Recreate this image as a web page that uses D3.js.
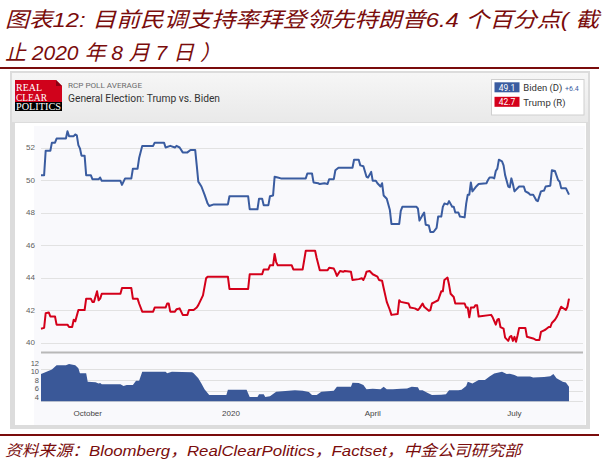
<!DOCTYPE html>
<html><head><meta charset="utf-8">
<script src="https://cdn.jsdelivr.net/npm/d3@7"></script>
<style>body{margin:0;background:#fff;} svg{display:block;}</style>
</head><body><svg id="c" width="612" height="467"></svg>
<script>
// ---------- DATA ----------
const titleLines = ["图表12: 目前民调支持率拜登领先特朗普6.4 个百分点( 截", "止 2020 年 8 月 7 日 ）"];
const sourceText = "资料来源：Bloomberg，RealClearPolitics，Factset，中金公司研究部";
const headerSmall = "RCP POLL AVERAGE";
const headerTitle = "General Election: Trump vs. Biden";
const logoWords = ["REAL", "CLEAR", "POLITICS"];
const startDate = "2019-09-01";   // day 0 of the day offsets below
const endDate = "2020-08-14";

const bidenDays = [0,2,3,6,7,9,10,16,17,18,21,22,23,24,25,26,28,29,32,33,37,38,39,51,52,54,58,59,62,63,65,72,73,79,80,83,86,87,89,91,94,96,99,100,101,103,105,107,108,111,120,121,133,134,139,140,142,143,146,147,149,150,152,154,170,171,174,175,178,179,182,184,185,188,189,191,200,201,204,205,207,209,210,212,213,215,216,218,219,220,222,224,225,230,231,232,241,242,243,245,246,247,249,250,252,254,255,257,258,259,261,262,264,265,266,268,269,272,273,274,275,276,277,279,281,286,287,288,290,291,292,293,294,296,297,298,300,301,302,303,304,307,310,311,313,314,316,318,319,321,323,324,327,328,330,332,333,334,337,338,339];
const bidenValues = [50.3,50.3,51.8,51.8,52.3,52.3,52.55,52.55,53.0,52.7,52.7,52.8,52.75,52.15,51.95,51.5,51.5,50.3,50.3,50.05,50.05,50.15,49.95,49.95,49.7,50.1,50.1,50.7,50.7,51.35,52.1,52.1,52.3,52.3,52.0,52.1,52.0,52.1,52.0,51.7,51.7,51.85,51.85,50.9,49.9,49.6,49.1,48.55,48.4,48.5,48.5,49.0,49.0,48.2,48.2,48.85,48.85,48.45,48.45,49.0,49.05,50.2,50.15,50.1,50.1,50.4,50.4,49.85,49.8,49.75,49.8,49.75,50.05,50.05,50.6,50.75,50.75,51.25,51.25,50.9,50.85,50.2,50.15,50.5,49.95,49.95,49.8,49.6,49.8,49.05,48.85,48.15,47.3,47.3,48.1,48.35,48.35,48.25,47.5,47.85,48.0,47.25,47.2,46.8,46.8,47.05,47.75,47.75,48.35,48.55,48.5,48.7,48.35,48.35,48.0,48.0,47.75,47.7,48.55,49.1,49.1,49.85,49.3,49.55,49.75,49.8,50.0,50.15,50.15,50.1,50.55,50.7,51.25,51.15,50.9,50.3,49.6,49.55,50.1,49.75,49.3,49.6,49.6,49.3,49.2,49.1,49.1,48.75,48.7,49.3,49.35,49.6,49.65,50.6,50.55,50.0,49.9,49.5,49.5,49.3,49.1];

const trumpDays = [0,2,3,5,6,9,10,17,18,20,21,22,24,28,29,32,33,34,36,37,38,39,51,52,58,59,62,63,65,72,73,80,81,82,83,86,87,89,91,94,95,98,100,101,103,104,106,107,120,121,133,134,142,143,146,147,149,150,151,152,161,162,168,170,176,177,179,184,185,188,189,190,192,194,195,199,200,204,206,207,208,209,211,213,216,217,219,220,222,224,225,229,230,231,236,237,240,242,243,245,246,249,250,251,253,255,257,258,259,261,262,263,265,266,272,273,274,275,276,278,279,280,281,289,290,292,293,294,295,297,298,300,301,302,303,304,305,306,307,311,312,316,318,320,321,323,324,326,327,328,330,331,332,333,334,337,338,339];
const trumpValues = [40.85,40.9,41.8,41.85,41.6,41.6,41.1,41.1,40.95,40.95,41.4,41.3,42.0,42.0,42.7,42.7,42.5,42.5,43.15,42.6,42.7,43.0,43.0,43.35,43.35,42.7,42.7,42.4,41.9,41.9,42.15,42.15,42.4,42.4,41.9,41.9,42.05,42.1,41.7,41.7,42.0,42.0,42.15,42.3,42.7,42.9,43.95,44.05,44.05,43.3,43.3,44.2,44.2,44.5,44.5,44.75,44.75,45.45,44.95,44.75,44.75,44.5,44.5,45.65,45.65,45.2,44.45,44.45,44.6,44.55,44.35,44.1,44.4,44.35,44.4,44.35,43.85,43.9,43.95,43.85,44.05,44.35,44.4,44.2,44.05,43.85,43.8,43.35,42.5,42.0,41.7,41.75,42.6,42.5,42.4,42.15,42.1,42.0,42.1,42.4,42.2,41.95,42.0,42.4,42.5,42.6,43.15,43.15,43.85,44.0,43.55,43.0,42.8,42.4,42.4,42.15,42.15,41.55,42.15,42.15,42.3,42.3,41.6,41.7,41.55,41.1,41.4,41.45,40.95,40.85,40.3,40.1,40.35,40.4,40.1,40.35,40.05,40.45,40.9,40.9,40.35,40.25,40.15,40.15,40.65,40.75,40.8,40.95,40.95,41.2,41.4,41.55,41.75,42.0,42.2,42.0,42.2,42.7];

const spreadDays = [0,2,7,10,16,18,22,24,25,29,30,35,37,38,39,51,53,55,59,61,63,65,80,81,84,97,98,101,103,105,108,119,120,132,134,139,140,143,144,147,151,163,168,172,174,177,180,188,190,199,200,204,207,209,213,218,220,222,226,231,235,238,242,243,245,248,251,257,260,262,268,270,273,274,277,281,285,288,291,296,299,301,304,306,314,316,323,327,329,331,335,337,339];
const spreadValues = [9.4,9.7,10.5,11.5,11.5,11.75,11.5,10.75,9.6,9.6,7.6,7.45,7.2,7.3,7.0,7.0,6.6,6.8,6.8,7.85,7.85,9.95,9.95,9.6,9.95,9.8,9.6,8.4,7.2,5.8,4.45,4.45,5.7,5.7,4.0,4.0,4.65,4.65,4.0,4.2,5.25,5.6,5.5,5.2,4.5,4.5,5.25,5.5,6.4,6.4,7.35,7.3,6.8,5.8,5.95,5.8,6.4,5.8,5.8,5.95,6.0,6.4,6.3,5.6,5.6,5.0,4.5,4.55,4.65,5.6,5.6,5.7,6.6,7.6,7.2,8.0,8.0,8.8,9.55,9.95,9.4,9.45,9.2,8.8,8.8,8.6,8.7,8.9,9.4,8.4,7.6,7.4,6.4];

const yTicks = [40, 42, 44, 46, 48, 50, 52];
const spreadTicks = [4, 6, 8, 10, 12];
const spreadGrid = [3, 5.5, 8, 10.5];
const xTickDates = ["2019-10-01", "2020-01-01", "2020-04-01", "2020-07-01"];
const xTickLabels = ["October", "2020", "April", "July"];
const legendNames = ["Biden (D)", "Trump (R)"];
const legendValues = ["49.1", "42.7"];
const leadText = "+6.4";

// ---------- STYLE ----------
const BLUE = "#3a5ca0", RED = "#d4001a", AREA = "#3a5898", DARKRED = "#7a0c0c";
const svg = d3.select("#c");
const parse = d3.utcParse("%Y-%m-%d");
const t0 = parse(startDate);

// Title
svg.selectAll("text.title").data(titleLines).join("text")
  .attr("class", "title")
  .attr("x", 5).attr("y", (d, i) => 27 + i * 33)
  .attr("font-family", "'Liberation Sans','Noto Sans CJK SC',sans-serif")
  .attr("font-style", "italic").attr("font-size", 21)
  .attr("fill", DARKRED)
  .attr("textLength", (d, i) => i === 0 ? 594 : null)
  .attr("lengthAdjust", "spacingAndGlyphs")
  .text(d => d);
svg.append("rect").attr("x", 0).attr("y", 67).attr("width", 599).attr("height", 2).attr("fill", DARKRED);

// Frame
const defs = svg.append("defs");
const g1 = defs.append("linearGradient").attr("id", "hdr").attr("x1", 0).attr("y1", 0).attr("x2", 0).attr("y2", 1);
g1.append("stop").attr("offset", "0%").attr("stop-color", "#f6f6f6");
g1.append("stop").attr("offset", "100%").attr("stop-color", "#e9e9e9");
svg.append("rect").attr("x", 10).attr("y", 71).attr("width", 580).attr("height", 358).attr("fill", "#dcdcdc");
svg.append("rect").attr("x", 12).attr("y", 73).attr("width", 576).attr("height", 49).attr("fill", "url(#hdr)");
svg.append("rect").attr("x", 15).attr("y", 123).attr("width", 571).attr("height", 302).attr("fill", "#ffffff");
svg.append("rect").attr("x", 34).attr("y", 126).attr("width", 551).attr("height", 299).attr("fill", "#f9f9fc");

// Logo
const logo = svg.append("g");
logo.append("rect").attr("x", 15).attr("y", 80).attr("width", 47).attr("height", 22).attr("fill", "#d0021b");
logo.append("rect").attr("x", 15).attr("y", 102).attr("width", 47).attr("height", 9).attr("fill", "#000");
logo.append("path").attr("d", "M56,80 L62,80 L62,86 Z").attr("fill", "#f2f2f2");
logo.append("path").attr("d", "M56,80 L62,86 L56,86 Z").attr("fill", "#8c0012");
logo.selectAll("text").data(logoWords).join("text")
  .attr("x", 16).attr("y", (d, i) => [91, 100.5, 110][i])
  .attr("font-family", "'Liberation Serif','DejaVu Serif',serif")
  .attr("font-size", (d, i) => i === 2 ? 10 : 10)
  .attr("textLength", (d, i) => [26, 31, 45][i]).attr("lengthAdjust", "spacingAndGlyphs")
  .attr("fill", "#fff").text(d => d);

svg.append("text").attr("x", 68).attr("y", 87.5).attr("font-family", "Roboto,'Liberation Sans',sans-serif")
  .attr("font-size", 8).attr("fill", "#6b6b6b").attr("textLength", 74).attr("lengthAdjust", "spacingAndGlyphs").text(headerSmall);
svg.append("text").attr("x", 68).attr("y", 101.5).attr("font-family", "Roboto,'Liberation Sans',sans-serif")
  .attr("font-size", 10).attr("fill", "#333").attr("textLength", 152).attr("lengthAdjust", "spacingAndGlyphs").text(headerTitle);

// Legend
svg.append("rect").attr("x", 491.5).attr("y", 79.5).attr("width", 92.5).attr("height", 35.5).attr("fill", "#fff").attr("stroke", "#cfcfcf");
const lg = svg.selectAll("g.lg").data(legendNames).join("g").attr("class", "lg")
  .attr("transform", (d, i) => `translate(0,${i * 14.5})`);
lg.append("rect").attr("x", 494.5).attr("y", 82.3).attr("width", 25).attr("height", 10).attr("fill", (d, i) => i ? RED : BLUE);
lg.append("text").attr("x", 507).attr("y", 90.6).attr("text-anchor", "middle").attr("font-family", "Roboto,'Liberation Sans',sans-serif")
  .attr("font-size", 8.5).attr("fill", "#fff").text((d, i) => legendValues[i]);
lg.append("text").attr("x", 523.3).attr("y", 91).attr("font-family", "Roboto,'Liberation Sans',sans-serif")
  .attr("font-size", 9.5).attr("fill", "#333").text(d => d);
svg.append("text").attr("x", 565).attr("y", 90.5).attr("font-family", "Roboto,'Liberation Sans',sans-serif")
  .attr("font-size", 7).attr("fill", BLUE).text(leadText);

// Scales
const x = d3.scaleUtc().domain([parse(startDate), parse(endDate)]).range([41, 583]);
const y = d3.scaleLinear().domain([40, 52]).range([342.5, 147.5]);
const ys = d3.scaleLinear().domain([3, 12]).range([401.25, 363]);
const dayToDate = d => d3.utcDay.offset(t0, d);

// Main grid + labels
svg.append("g").selectAll("line").data(yTicks).join("line")
  .attr("x1", 41).attr("x2", 583).attr("y1", d => Math.round(y(d)) + 0.5).attr("y2", d => Math.round(y(d)) + 0.5)
  .attr("stroke", "#e2e2e2");
svg.append("g").selectAll("text").data(yTicks).join("text")
  .attr("x", 35).attr("y", d => y(d)).attr("dy", "0.35em").attr("text-anchor", "end")
  .attr("font-family", "'Liberation Sans',Arial,sans-serif").attr("font-size", 8).attr("fill", "#606060").text(d => d);
svg.append("line").attr("x1", 41).attr("x2", 583).attr("y1", 352.5).attr("y2", 352.5).attr("stroke", "#b8b8b8").attr("stroke-width", 2);

// Lines
const line = d3.line().x(d => x(dayToDate(d[0]))).y(d => y(d[1]));
svg.append("path").datum(d3.zip(trumpDays, trumpValues)).attr("d", line)
  .attr("fill", "none").attr("stroke", RED).attr("stroke-width", 2).attr("stroke-linejoin", "round");
svg.append("path").datum(d3.zip(bidenDays, bidenValues)).attr("d", line)
  .attr("fill", "none").attr("stroke", BLUE).attr("stroke-width", 2).attr("stroke-linejoin", "round");

// Spread pane
svg.append("g").selectAll("line").data(spreadGrid).join("line")
  .attr("x1", 41).attr("x2", 583).attr("y1", d => Math.round(ys(d)) + 0.5).attr("y2", d => Math.round(ys(d)) + 0.5)
  .attr("stroke", "#e0e0e0");
const area = d3.area().x(d => x(dayToDate(d[0]))).y0(ys(3)).y1(d => ys(d[1]));
svg.append("path").datum(d3.zip(spreadDays, spreadValues)).attr("d", area).attr("fill", AREA);
svg.append("g").selectAll("text").data(spreadTicks).join("text")
  .attr("x", 39).attr("y", d => ys(d)).attr("dy", "0.35em").attr("text-anchor", "end")
  .attr("font-family", "'Liberation Sans',Arial,sans-serif").attr("font-size", 7.5).attr("fill", "#555").text(d => d);

// X axis labels
svg.append("g").selectAll("text").data(xTickDates).join("text")
  .attr("x", d => x(parse(d))).attr("y", 416).attr("text-anchor", "middle")
  .attr("font-family", "'Liberation Sans',Arial,sans-serif").attr("font-size", 8).attr("fill", "#444")
  .text((d, i) => xTickLabels[i]);

// Footer
svg.append("rect").attr("x", 0).attr("y", 434).attr("width", 599).attr("height", 2).attr("fill", DARKRED);
svg.append("text").attr("x", 5).attr("y", 456)
  .attr("font-family", "'Liberation Sans','Noto Sans CJK SC',sans-serif")
  .attr("font-style", "italic").attr("font-size", 15.5).attr("fill", DARKRED)
  .attr("textLength", 516).attr("lengthAdjust", "spacingAndGlyphs").text(sourceText);
</script></body></html>
